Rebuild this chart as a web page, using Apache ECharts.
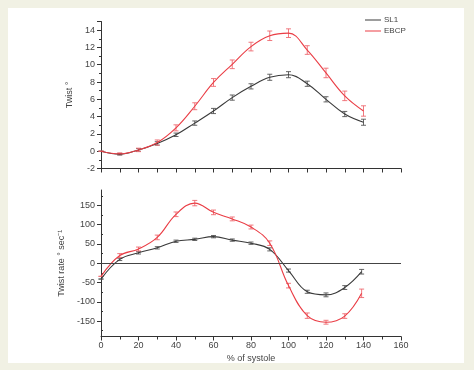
<!DOCTYPE html>
<html><head><meta charset="utf-8">
<script src="https://cdn.jsdelivr.net/npm/echarts@6/dist/echarts.min.js"></script>
<style>html,body{margin:0;padding:0;background:#f1f1e4}#c{width:474px;height:370px}</style>
</head><body><div id="c"></div>
<script>
// ---- data ----
const seriesNames = ['SL1', 'EBCP'];
const twistX = [0, 10, 20, 30, 40, 50, 60, 70, 80, 90, 100, 110, 120, 130, 140];
const twistSL1 = [0, -0.35, 0.15, 0.9, 1.9, 3.25, 4.65, 6.2, 7.5, 8.55, 8.85, 7.8, 6.0, 4.3, 3.35];
const twistEBCP = [0, -0.3, 0.15, 1.0, 2.7, 5.2, 7.95, 10.05, 12.1, 13.35, 13.65, 11.7, 9.05, 6.4, 4.65];
const twistErrSL1 = [0, 0.1, 0.15, 0.2, 0.2, 0.25, 0.3, 0.3, 0.3, 0.35, 0.35, 0.3, 0.3, 0.3, 0.35];
const twistErrEBCP = [0, 0.1, 0.2, 0.3, 0.35, 0.4, 0.45, 0.5, 0.5, 0.55, 0.5, 0.5, 0.55, 0.55, 0.6];
const rateX = [0, 10, 20, 30, 40, 50, 60, 70, 80, 90, 100, 110, 120, 130, 139];
const rateSL1 = [-41, 10, 27, 40, 57, 62, 69, 60, 52, 36, -19, -74, -82, -63, -22];
const rateEBCP = [-34, 20, 37, 67, 127, 156, 132, 115, 94, 52, -58, -136, -153, -137, -78];
const rateErrSL1 = [0, 3, 3, 3, 3, 3, 3, 3, 3, 4, 4, 4, 5, 5, 6];
const rateErrEBCP = [0, 5, 5, 6, 6, 7, 6, 5, 5, 6, 6, 7, 5, 6, 11];
const rateMajorTicks = [-150, -100, -50, 0, 50, 100, 150];
const rateMinorTicks = [-175, -125, -75, -25, 25, 75, 125, 175];

const COL_BLACK = '#3a3a3a';
const COL_RED = '#ea3d45';
const COL_BLACK_ERR = '#555555';
const COL_RED_ERR = '#ee6a70';
const FONT = 'Liberation Sans, Arial, sans-serif';

function pairs(xs, ys) { return xs.map((x, i) => [x, ys[i]]); }
function errData(xs, ys, es) { return xs.map((x, i) => [x, ys[i] - es[i], ys[i] + es[i]]); }

function errSeries(xi, yi, data, color) {
  return {
    type: 'custom', xAxisIndex: xi, yAxisIndex: yi, silent: true, z: 3,
    data: data,
    renderItem: function (params, api) {
      const x = api.value(0);
      const lo = api.coord([x, api.value(1)]);
      const hi = api.coord([x, api.value(2)]);
      const w = 2.5;
      const st = { stroke: color, lineWidth: 0.9 };
      return { type: 'group', children: [
        { type: 'line', shape: { x1: lo[0], y1: lo[1], x2: hi[0], y2: hi[1] }, style: st },
        { type: 'line', shape: { x1: lo[0] - w, y1: lo[1], x2: lo[0] + w, y2: lo[1] }, style: st },
        { type: 'line', shape: { x1: hi[0] - w, y1: hi[1], x2: hi[0] + w, y2: hi[1] }, style: st }
      ]};
    }
  };
}

const axisLine = { show: true, onZero: false, lineStyle: { color: '#333', width: 1 } };
const labelStyle = { color: '#444', fontSize: 9, fontFamily: FONT };

const chart = echarts.init(document.getElementById('c'), null, { renderer: 'canvas' });
chart.setOption({
  backgroundColor: '#f1f1e4',
  animation: false,
  graphic: [{ type: 'rect', shape: { x: 8, y: 8, width: 456, height: 355 }, style: { fill: '#ffffff' }, z: -10 }],
  legend: {
    data: seriesNames, orient: 'vertical', left: 360, top: 11, itemGap: 3,
    itemWidth: 16, itemHeight: 1.2, icon: 'path://M0,0H16V1H0Z',
    textStyle: { color: '#444', fontSize: 8, fontFamily: FONT, padding: [0, 0, 0, -2] }
  },
  grid: [
    { left: 101, top: 21.5, width: 300, height: 147 },
    { left: 101, top: 190, width: 300, height: 146.5 }
  ],
  xAxis: [
    { type: 'value', gridIndex: 0, min: 0, max: 160, interval: 10, axisLine: axisLine,
      axisTick: { show: true, length: 4, lineStyle: { color: '#333' } },
      axisLabel: { show: false }, splitLine: { show: false } },
    { type: 'value', gridIndex: 1, min: 0, max: 160, interval: 20, axisLine: axisLine,
      axisTick: { show: true, length: 4, lineStyle: { color: '#333' } },
      minorTick: { show: true, splitNumber: 2, length: 3, lineStyle: { color: '#333' } },
      axisLabel: Object.assign({ margin: 5 }, labelStyle), splitLine: { show: false },
      name: '% of systole', nameLocation: 'middle', nameGap: 18,
      nameTextStyle: { color: '#444', fontSize: 9, fontFamily: FONT } }
  ],
  yAxis: [
    { type: 'value', gridIndex: 0, min: -2, max: 15, interval: 2, axisLine: axisLine,
      axisTick: { show: true, length: 4, lineStyle: { color: '#333' } },
      minorTick: { show: true, splitNumber: 2, length: 2, lineStyle: { color: '#333' } },
      axisLabel: Object.assign({ margin: 6 }, labelStyle), splitLine: { show: false },
      name: 'Twist °', nameLocation: 'middle', nameGap: 24, nameRotate: 90,
      nameTextStyle: { color: '#444', fontSize: 9, fontFamily: FONT } },
    { type: 'value', gridIndex: 1, min: -190, max: 190, axisLine: axisLine,
      axisTick: { show: true, length: 4, customValues: rateMajorTicks, lineStyle: { color: '#333' } },
      axisLabel: Object.assign({ margin: 6, customValues: rateMajorTicks }, labelStyle), splitLine: { show: false },
      name: 'Twist rate ° sec⁻¹', nameLocation: 'middle', nameGap: 24, nameRotate: 90,
      nameTextStyle: { color: '#444', fontSize: 9, fontFamily: FONT } },
    { type: 'value', gridIndex: 1, min: -190, max: 190, axisLine: { show: false },
      axisTick: { show: true, length: 2, customValues: rateMinorTicks, lineStyle: { color: '#333' } },
      axisLabel: { show: false }, splitLine: { show: false } }
  ],
  series: [
    { name: 'SL1', type: 'line', xAxisIndex: 0, yAxisIndex: 0, data: pairs(twistX, twistSL1),
      smooth: 0.4, showSymbol: false, lineStyle: { color: COL_BLACK, width: 1.1 }, itemStyle: { color: COL_BLACK }, z: 4 },
    { name: 'EBCP', type: 'line', xAxisIndex: 0, yAxisIndex: 0, data: pairs(twistX, twistEBCP),
      smooth: 0.4, showSymbol: false, lineStyle: { color: COL_RED, width: 1.1 }, itemStyle: { color: COL_RED }, z: 4 },
    errSeries(0, 0, errData(twistX, twistSL1, twistErrSL1), COL_BLACK_ERR),
    errSeries(0, 0, errData(twistX, twistEBCP, twistErrEBCP), COL_RED_ERR),
    { name: 'SL1', type: 'line', xAxisIndex: 1, yAxisIndex: 1, data: pairs(rateX, rateSL1),
      smooth: 0.4, showSymbol: false, lineStyle: { color: COL_BLACK, width: 1.1 }, itemStyle: { color: COL_BLACK }, z: 4,
      markLine: { silent: true, symbol: 'none', label: { show: false },
        lineStyle: { color: '#444', width: 1, type: 'solid' }, data: [{ yAxis: 0 }] } },
    { name: 'EBCP', type: 'line', xAxisIndex: 1, yAxisIndex: 1, data: pairs(rateX, rateEBCP),
      smooth: 0.4, showSymbol: false, lineStyle: { color: COL_RED, width: 1.1 }, itemStyle: { color: COL_RED }, z: 4 },
    errSeries(1, 1, errData(rateX, rateSL1, rateErrSL1), COL_BLACK_ERR),
    errSeries(1, 1, errData(rateX, rateEBCP, rateErrEBCP), COL_RED_ERR)
  ]
});
</script></body></html>
